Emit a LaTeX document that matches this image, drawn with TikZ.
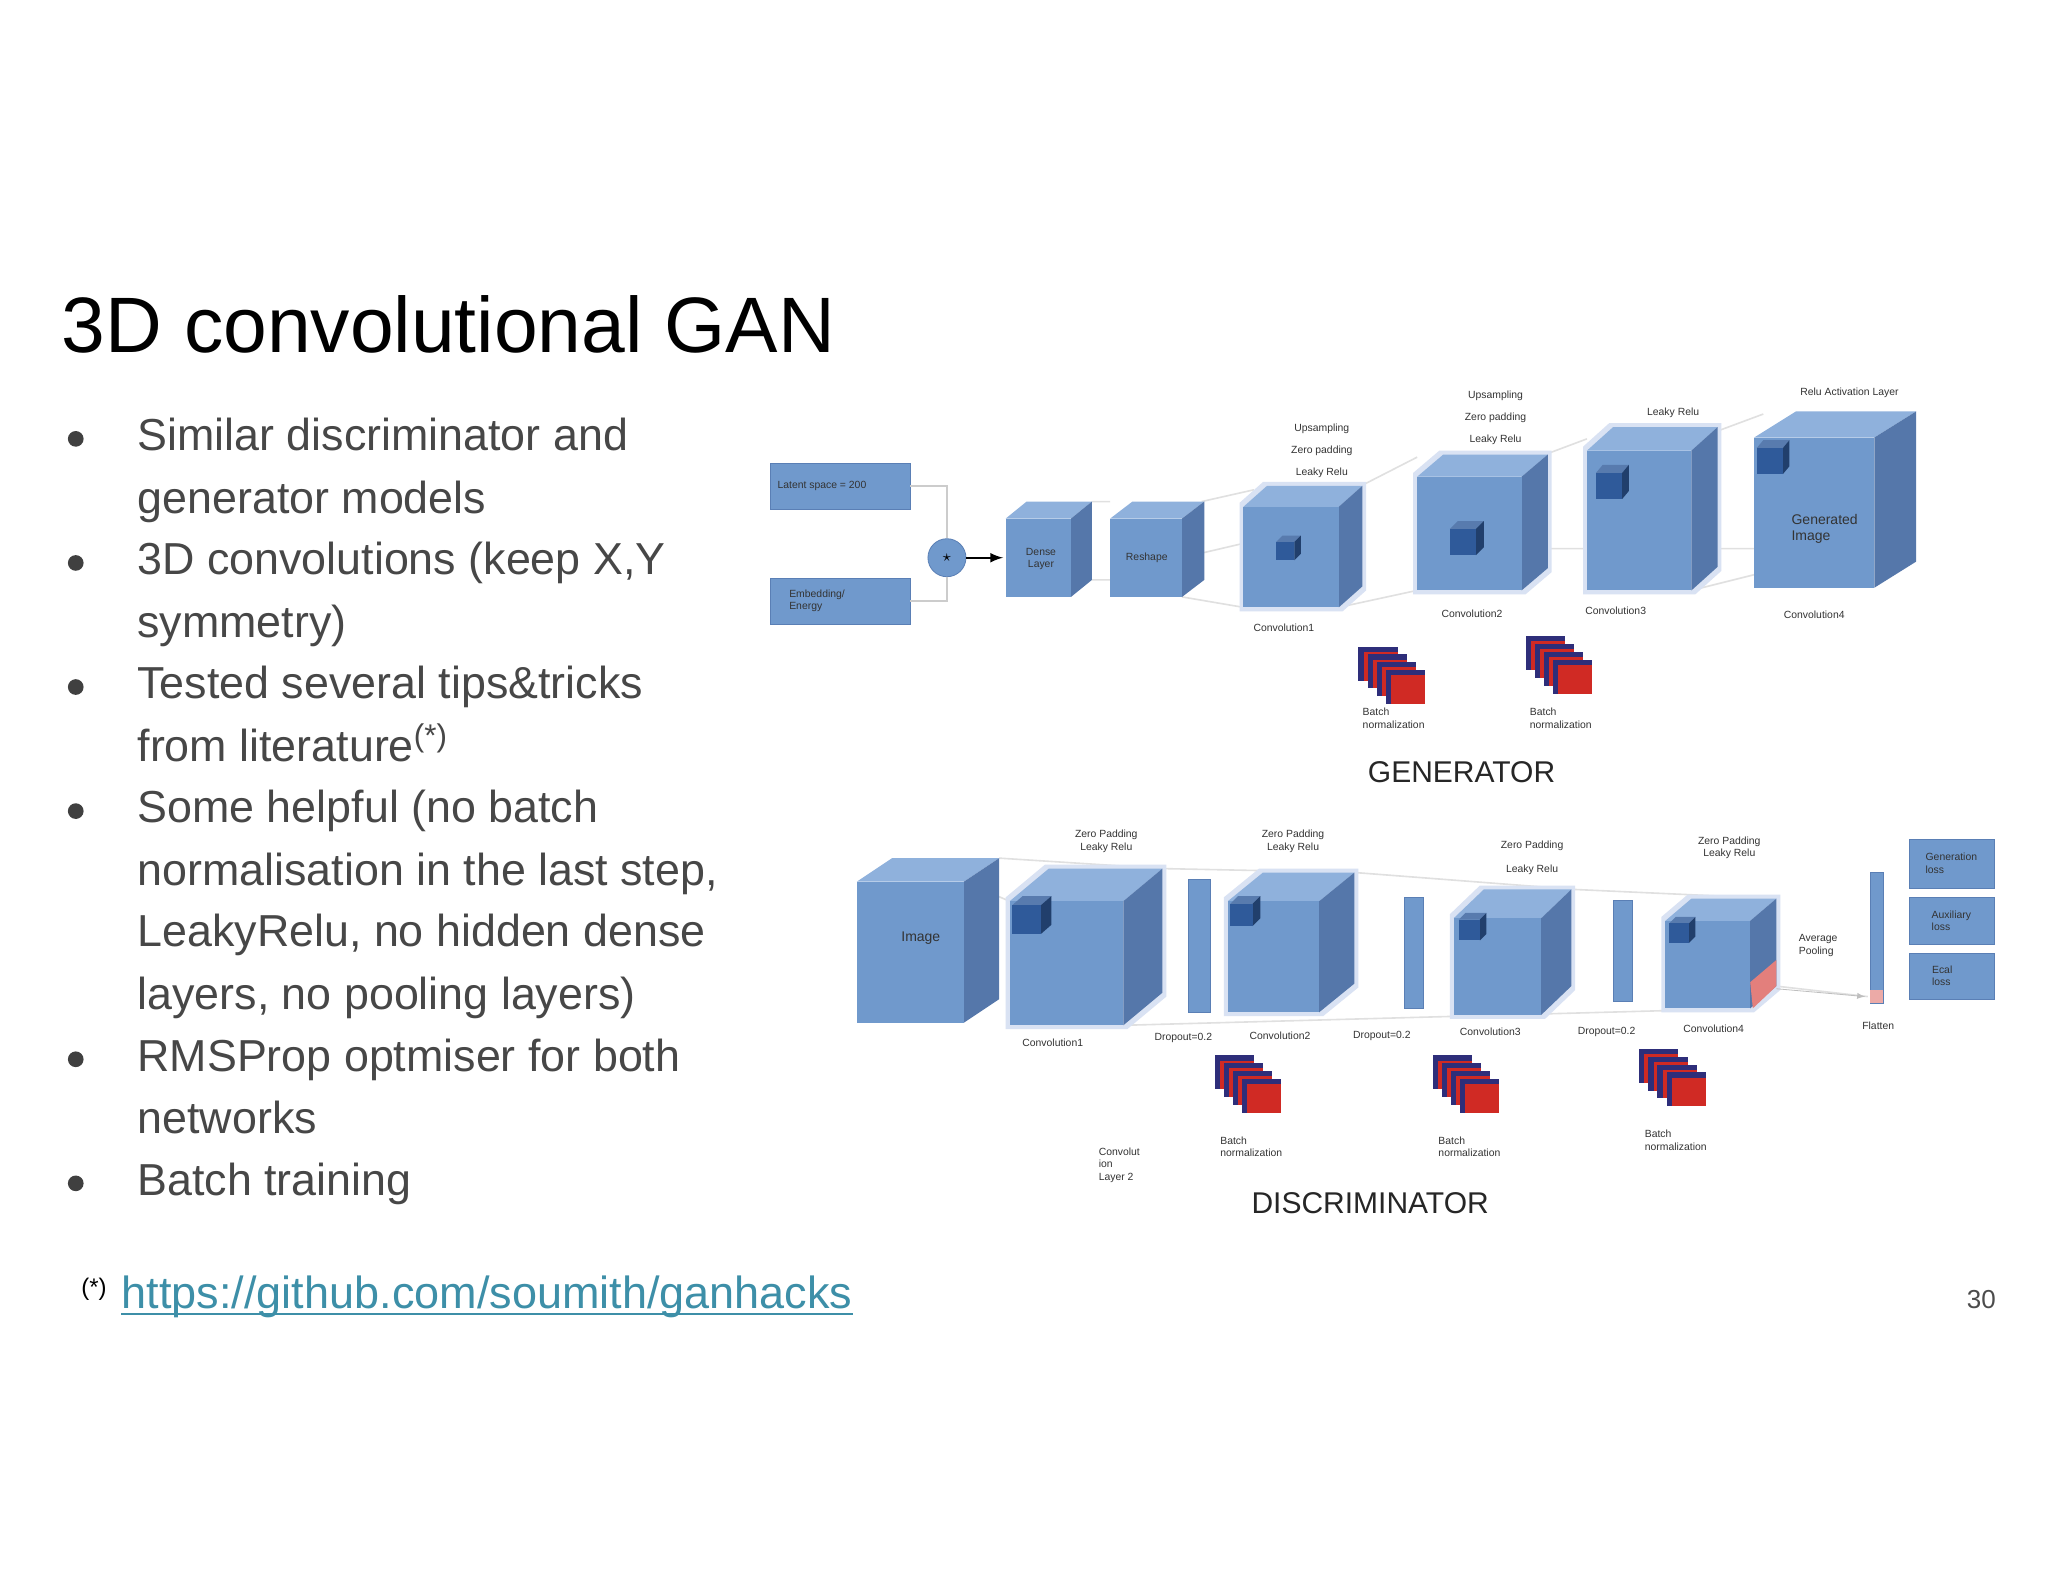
\documentclass[tikz,border=0pt]{standalone}
\usepackage{fontspec}
\usetikzlibrary{calc}
\setmainfont{Liberation Sans}
\begin{document}
\begin{tikzpicture}[x=0.653pt,y=-0.653pt,
  tiny/.style={font=\fontsize{5.2}{6.2}\selectfont,align=center,text=black!80,inner sep=0pt},
  bul/.style={font=\fontsize{22.4}{26}\selectfont,anchor=base west,inner sep=0pt,text=black!72},
  flat/.style={fill=cfront,draw=cedge,line width=0.4pt},
  conn/.style={draw=black!12,line width=0.8pt},
  big/.style={font=\fontsize{15}{18}\selectfont,inner sep=0pt,text=black!85}]
\definecolor{cfront}{HTML}{7099CC}
\definecolor{ctop}{HTML}{8FB1DC}
\definecolor{cside}{HTML}{5577AA}
\definecolor{cedge}{HTML}{5A7FB5}
\definecolor{cin}{HTML}{2F5A9A}
\definecolor{cglow}{HTML}{D9E2F3}
\definecolor{bnblue}{HTML}{2E2E7A}
\definecolor{bnred}{HTML}{D02A24}
\definecolor{link}{HTML}{3D8FA8}
\fill[white] (0,0) rectangle (1568,1211);
\useasboundingbox (0,0) rectangle (1568,1211);
\newcommand\mycube[7]{%
  \ifx#71\fill[cglow] (#1-3,#2-3) -- ++(#5,-#6) -- ++(#3+6,0) -- ++(0,#4+6) -- ++(-#5,#6) -- ++(-#3-6,0) -- cycle;\fi
  \fill[ctop] (#1,#2) -- ++(#5,-#6) -- ++(#3,0) -- ++(-#5,#6) -- cycle;
  \fill[cside] (#1+#3,#2) -- ++(#5,-#6) -- ++(0,#4) -- ++(-#5,#6) -- cycle;
  \fill[cfront] (#1,#2) rectangle ++(#3,#4);}
\newcommand\incube[5]{%
  \fill[cin!80] (#1,#2) -- ++(#4,-#5) -- ++(#3,0) -- ++(-#4,#5) -- cycle;
  \fill[cin!70!black] (#1+#3,#2) -- ++(#4,-#5) -- ++(0,#3) -- ++(-#4,#5) -- cycle;
  \fill[cin] (#1,#2) rectangle ++(#3,#3);}
\newcommand\bnstack[2]{%
  \foreach \k in {0,1,2,3}{
    \fill[bnblue] (#1+7*\k,#2+6*\k) rectangle ++(30,26);
    \fill[bnred] (#1+7*\k+4,#2+6*\k+4) rectangle ++(26,22);}}
% ---- title and bullets
\node[font=\fontsize{39.3}{45}\selectfont,anchor=base west,inner sep=0pt] (title) at (47,270) {3D convolutional GAN};
\foreach \y/\t in {345/Similar discriminator and,393/generator models,440/{3D convolutions (keep X,Y},488/symmetry),535/Tested several tips\&tricks,583/{from literature\textsuperscript{(*)}},630/Some helpful (no batch,678/{normalisation in the last step,},725/{LeakyRelu, no hidden dense},773/{layers, no pooling layers)},820/RMSProp optmiser for both,868/networks,915/Batch training}
  \node[bul] at (105,\y) {\t};
\foreach \y in {345,440,535,630,820,915}
  \fill[black!75] (58,\y-9) circle (6);
\node[font=\fontsize{12}{14}\selectfont,anchor=base west,inner sep=0pt] (star) at (62,992) {(*)};
\node[font=\fontsize{22.5}{26}\selectfont,anchor=base west,inner sep=0pt,text=link] (url) at (93,1002) {https://github.com/soumith/ganhacks};
\draw[link,line width=1pt] ($(url.base west)+(0,4)$) -- ($(url.base east)+(0,4)$);
\node[font=\fontsize{13}{15}\selectfont,inner sep=0pt,text=black!70] (page) at (1517,995) {30};
% ---- generator
\fill[cfront,draw=cedge] (590,355) rectangle (697,390);
\node[tiny,anchor=west] (lat) at (595,372) {Latent space = 200};
\fill[cfront,draw=cedge] (590,443) rectangle (697,478);
\node[tiny,anchor=west,align=left] (emb) at (604,460) {Embedding/\\Energy};
\node[circle,fill=cfront,draw=cedge,minimum size=19pt,inner sep=0pt,font=\fontsize{8}{8}\selectfont] (mul) at (725,427) {$\star$};
\draw[black!20,line width=0.8pt] (697,372) -| (mul.north) (697,460) -| (mul.south);
\draw[-latex,line width=1.2pt] (mul) -- (768,427);
\draw[conn] (836,384)--(850,384) (836,444)--(850,444) (920,384)--(960,375) (905,457)--(952,465) (905,427)--(952,416) (1042,372)--(1085,350) (1025,465)--(1085,452) (1183,348)--(1215,336) (1165,420)--(1215,420) (1315,330)--(1350,317) (1295,420)--(1343,420) (1295,452)--(1343,440);
\mycube{770}{397}{50}{60}{16}{13}{0}
\node[tiny] (dense) at (797,428) {Dense\\Layer};
\mycube{850}{397}{55}{60}{17}{13}{0}
\node[tiny] (resh) at (878,427) {Reshape};
\mycube{952}{388}{73}{77}{18}{16}{1}
\incube{977}{415}{14}{5}{5}
\mycube{1085}{365}{80}{87}{20}{17}{1}
\incube{1110}{405}{20}{6}{6}
\mycube{1215}{345}{80}{107}{20}{18}{1}
\incube{1222}{362}{20}{5}{6}
\mycube{1343}{335}{92}{115}{32}{20}{0}
\incube{1345}{343}{20}{5}{6}
\node[tiny,font=\fontsize{7}{8}\selectfont,align=left] (gen) at (1397,405) {Generated\\Image};
\node[tiny] (c1) at (983,481) {Convolution1};
\node[tiny,font=\fontsize{5.2}{11}\selectfont] (u1) at (1012,345) {Upsampling\\Zero padding\\Leaky Relu};
\node[tiny] (c2) at (1127,470) {Convolution2};
\node[tiny,font=\fontsize{5.2}{11}\selectfont] (u2) at (1145,320) {Upsampling\\Zero padding\\Leaky Relu};
\node[tiny] (c3) at (1237,468) {Convolution3};
\node[tiny] (lr3) at (1281,316) {Leaky Relu};
\node[tiny] (c4) at (1389,471) {Convolution4};
\node[tiny] (ra) at (1416,301) {Relu Activation Layer};
\bnstack{1040}{495}
\bnstack{1168}{487}
\node[tiny,align=left] (bn1) at (1067,550) {Batch\\normalization};
\node[tiny,align=left] (bn2) at (1195,550) {Batch\\normalization};
\node[big] (G) at (1119,591) {GENERATOR};
% ---- discriminator
\draw[conn] (765,657)--(890,665) (738,675)--(773,690) (890,665)--(1037,668) (1037,668)--(1206,681) (1206,681)--(1360,688) (860,785)--(1340,772) (1360,755)--(1430,763);
\mycube{656}{675}{82}{108}{27}{18}{0}
\node[tiny,font=\fontsize{7}{8}\selectfont] (img) at (705,718) {Image};
\mycube{773}{690}{87}{95}{30}{25}{1}
\incube{775}{693}{22}{8}{7}
\fill[flat] (910,673) rectangle (927,775);
\mycube{940}{690}{70}{85}{27}{22}{1}
\incube{942}{692}{17}{6}{6}
\fill[flat] (1075,687) rectangle (1090,772);
\mycube{1113}{703}{67}{74}{23}{22}{1}
\incube{1117}{704}{16}{5}{5}
\fill[flat] (1235,689) rectangle (1250,767);
\mycube{1275}{705}{65}{67}{20}{17}{1}
\incube{1278}{707}{15}{5}{5}
\fill[bnred!60!white] (1340,752) -- (1360,735) -- (1360,755) -- (1342,772) -- cycle;
\draw[-latex,black!25] (1360,757) -- (1428,763);
\fill[flat] (1432,668) rectangle (1442,768);
\fill[bnred!40!white] (1432,758) rectangle (1442,768);
\fill[cfront,draw=cedge] (1462,643) rectangle (1527,680);
\node[tiny,align=left] (gl) at (1494,661) {Generation\\loss};
\fill[cfront,draw=cedge] (1462,687) rectangle (1527,723);
\node[tiny,align=left] (al) at (1494,705) {Auxiliary\\loss};
\fill[cfront,draw=cedge] (1462,730) rectangle (1527,765);
\node[tiny,align=left] (el) at (1487,747) {Ecal\\loss};
\node[tiny] (z1) at (847,644) {Zero Padding\\Leaky Relu};
\node[tiny] (z2) at (990,644) {Zero Padding\\Leaky Relu};
\node[tiny,font=\fontsize{5.2}{12}\selectfont] (z3) at (1173,657) {Zero Padding\\Leaky Relu};
\node[tiny] (z4) at (1324,649) {Zero Padding\\Leaky Relu};
\node[tiny] (dc1) at (806,798) {Convolution1};
\node[tiny] (d1) at (906,795) {Dropout=0.2};
\node[tiny] (dc2) at (980,793) {Convolution2};
\node[tiny] (d2) at (1058,793) {Dropout=0.2};
\node[tiny] (dc3) at (1141,790) {Convolution3};
\node[tiny] (d3) at (1230,790) {Dropout=0.2};
\node[tiny] (dc4) at (1312,788) {Convolution4};
\node[tiny,align=left] (ap) at (1392,724) {Average\\Pooling};
\node[tiny] (fl) at (1438,785) {Flatten};
\bnstack{930}{808}
\bnstack{1097}{808}
\bnstack{1255}{803}
\node[tiny,align=left] (db1) at (958,878) {Batch\\normalization};
\node[tiny,align=left] (db2) at (1125,878) {Batch\\normalization};
\node[tiny,align=left] (db3) at (1283,873) {Batch\\normalization};
\node[tiny,align=left] (cl2) at (857,892) {Convolut\\ion\\Layer 2};
\node[big] (D) at (1049,921) {DISCRIMINATOR};
\end{tikzpicture}
\end{document}
